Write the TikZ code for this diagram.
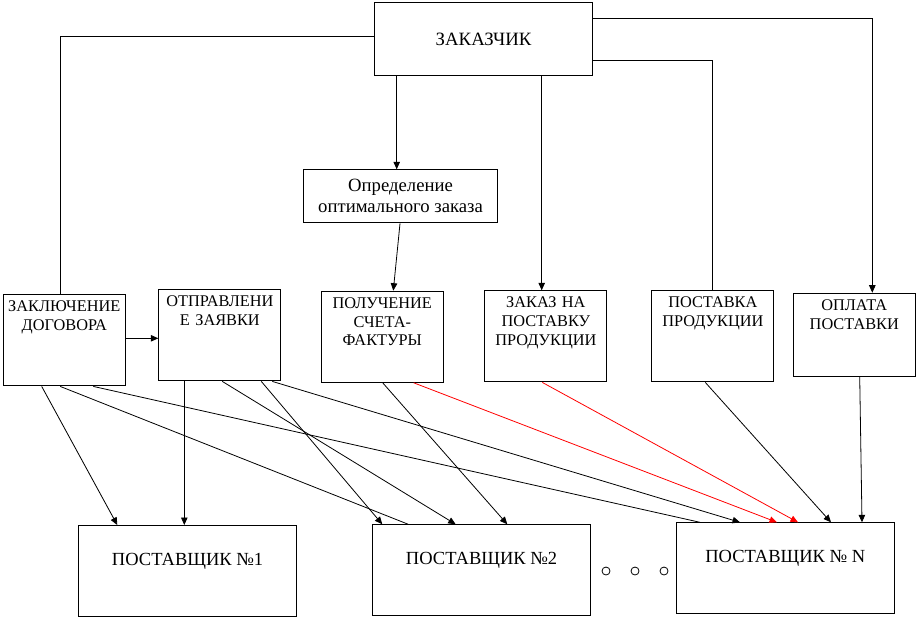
\documentclass[tikz,border=0pt]{standalone}
\usepackage{fontspec}
\setmainfont{Liberation Serif}
\usetikzlibrary{arrows.meta}

\begin{document}
\begin{tikzpicture}[x=1pt,y=-1pt,
  stage/.style={draw,line width=1.1pt,anchor=north west,align=center,text width=122pt,inner xsep=0pt,inner ysep=0pt,text height=17pt,text depth=74pt,font=\fontsize{16.3}{18.8}\selectfont},
  supplier/.style={draw,line width=1.1pt,anchor=north west,minimum width=217.5pt,inner sep=0pt,text height=40pt,text depth=51pt,font=\fontsize{18.5}{22}\selectfont},
  link/.style={line width=0.8pt},
  arr/.style={link,-{Triangle[length=7.5pt,width=6.5pt]}},
  redarr/.style={arr,red},
  dot/.style={draw,circle,minimum size=8pt,inner sep=0pt,line width=0.8pt}]
\useasboundingbox (0,0) rectangle (917,619);
\node[draw,line width=1.1pt,anchor=north west,minimum width=217.4pt,minimum height=72.7pt,inner sep=0pt,font=\fontsize{18.8}{21}\selectfont] (zak) at (374.3,2.3) {ЗАКАЗЧИК};
\node[draw,line width=1.1pt,anchor=north west,align=center,minimum width=193.4pt,minimum height=53pt,inner sep=0pt,font=\fontsize{18.7}{21}\selectfont] (opt) at (303.3,169.3) {Определение\\оптимального заказа};
\node[stage] (zakl) at (2.7,294.3) {ЗАКЛЮЧЕНИЕ\\ДОГОВОРА};
\node[stage] (otpr) at (158.3,289.3) {ОТПРАВЛЕНИ\\Е ЗАЯВКИ};
\node[stage] (polu) at (320.7,290.7) {ПОЛУЧЕНИЕ\\СЧЕТА-\\ФАКТУРЫ};
\node[stage] (zakn) at (484.3,290.3) {ЗАКАЗ НА\\ПОСТАВКУ\\ПРОДУКЦИИ};
\node[stage] (post) at (651.3,290.3) {ПОСТАВКА\\ПРОДУКЦИИ};
\node[stage,text depth=66pt] (opl) at (792.7,292.7) {ОПЛАТА\\ПОСТАВКИ};
\node[supplier] (sup1) at (78.3,525) {ПОСТАВЩИК №1};
\node[supplier] (sup2) at (372.3,524.3) {ПОСТАВЩИК №2};
\node[supplier] (supN) at (676,522.3) {ПОСТАВЩИК № N};
\foreach \x [count=\i] in {606,635,664}
  \node[dot] (dot\i) at (\x,571) {};
\draw[link] ([yshift=-34.4]zak.north west) -| ([xshift=58]zakl.north west);
\draw[arr] ([xshift=22.4]zak.south west) -- ([xshift=22.4]zak.south west |- opt.north);
\draw[arr] ([xshift=167.4]zak.south west) -- ([xshift=167.4]zak.south west |- zakn.north);
\draw[link] ([yshift=-58.4]zak.north east) -| ([xshift=61]post.north west);
\draw[arr] ([yshift=-16]zak.north east) -| ([xshift=79.6]opl.north west);
\draw[arr] ([xshift=96.7]opt.south west) -- ([xshift=72.6]polu.north west);
\draw[arr] ([yshift=-44]zakl.north east) -- ([yshift=-44]zakl.north east -| otpr.west);
\draw[arr] ([xshift=39]zakl.south west) -- ([xshift=39]sup1.north west);
\draw[link] ([xshift=57.5]zakl.south west) -- ([xshift=36]sup2.north west);
\draw[link] ([xshift=90.6]zakl.south west) -- ([xshift=24]supN.north west);
\draw[arr] ([xshift=26]otpr.south west) -- ([xshift=26]otpr.south west |- sup1.north);
\draw[arr] ([xshift=64]otpr.south west) -- ([xshift=83.4]sup2.north west);
\draw[arr] ([xshift=103]otpr.south west) -- ([xshift=10]sup2.north west);
\draw[arr] ([xshift=114]otpr.south west) -- ([xshift=64]supN.north west);
\draw[arr] ([xshift=62]polu.south west) -- ([xshift=135]sup2.north west);
\draw[redarr] ([xshift=93]polu.south west) -- ([xshift=101]supN.north west);
\draw[redarr] ([xshift=58]zakn.south west) -- ([xshift=122]supN.north west);
\draw[arr] ([xshift=54]post.south west) -- ([xshift=155]supN.north west);
\draw[arr] ([xshift=67]opl.south west) -- ([xshift=186]supN.north west);
\end{tikzpicture}
\end{document}
